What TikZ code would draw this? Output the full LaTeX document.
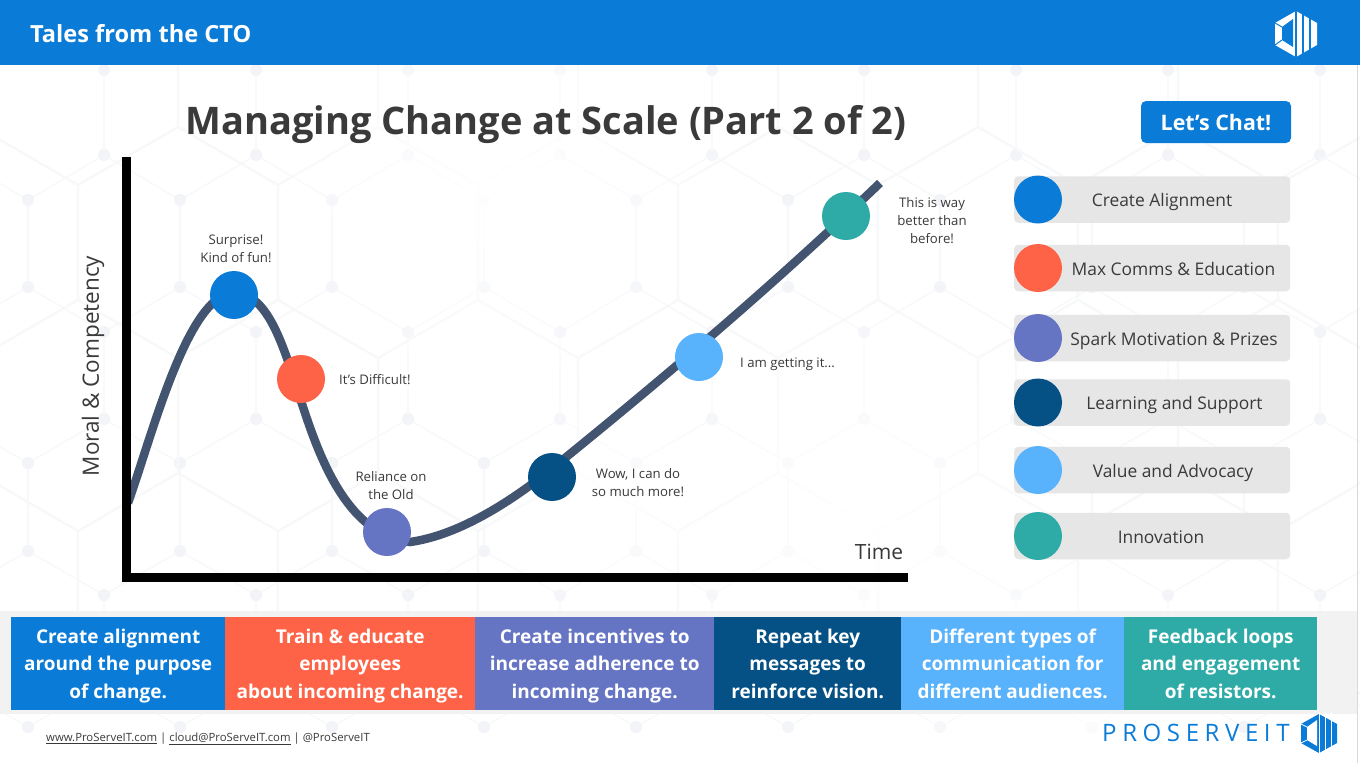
\documentclass[tikz,border=0pt]{standalone}
\usepackage{fontspec}
\usepackage{tikz}
\usetikzlibrary{fadings}
\setmainfont{Open Sans}
\definecolor{psblue}{HTML}{0A7CD8}
\definecolor{psred}{HTML}{FF6347}
\definecolor{pspurple}{HTML}{6674C4}
\definecolor{psnavy}{HTML}{055186}
\definecolor{pssky}{HTML}{58B2FC}
\definecolor{psteal}{HTML}{2EABA6}
\definecolor{pscurve}{HTML}{435470}
\definecolor{psink}{HTML}{3A3A3A}
\definecolor{pspill}{HTML}{E6E6E7}
\definecolor{psband}{HTML}{F2F2F2}
\definecolor{pshex}{HTML}{F7F8FA}
\definecolor{pshexdot}{HTML}{F3F4F8}
\newcommand{\topstrut}{\rule{0pt}{22.2pt}}
\tikzset{
  dot/.style={circle,fill=#1,draw=none,minimum size=48,inner sep=0pt},
  pill/.style={rounded corners=4,fill=pspill,draw=none,minimum height=46.5,minimum width=276,inner sep=0pt,anchor=west},
  pilltext/.style={text=psink,font=\fontsize{17.4}{22}\selectfont,inner sep=0pt},
  remark/.style={text=psink,font=\fontsize{13.2}{18}\selectfont,align=center,inner sep=0pt},
  block/.style={fill=#1,draw=none,text=white,font=\fontsize{19}{27.5}\selectfont\bfseries,align=center,inner sep=0pt,minimum height=93,anchor=north west},
  hexline/.style={draw=pshex,line width=1.2},
  bighex/.style={draw=pshex,line width=2.2},
}
\tikzfading[name=fadeblob,inner color=transparent!0,outer color=transparent!100]
\begin{document}
\begin{tikzpicture}[x=1pt,y=-1pt]
\useasboundingbox (0,0) rectangle (1360,763);
\fill[white] (0,0) rectangle (1360,763);
% background lattice
\foreach \col in {-1,...,9} {
  \pgfmathsetmacro{\xa}{104+152*\col}
  \pgfmathsetmacro{\xb}{28+152*\col}
  \pgfmathsetmacro{\xc}{180+152*\col}
  \draw[hexline] (\xa,70) -- (\xa,155) -- (\xb,200) -- (\xb,287) -- (\xa,332) -- (\xa,419) -- (\xb,463) -- (\xb,551) -- (\xa,595) -- (\xa,683) -- (\xb,727);
  \draw[hexline] (\xa,155) -- (\xc,200) -- (\xc,287) -- (\xa,332) (\xa,419) -- (\xc,463) -- (\xc,551) -- (\xa,595) (\xa,683) -- (\xc,727);
  \foreach \yy in {70,155,332,419,595,683} \fill[pshexdot] (\xa,\yy) circle (6);
  \foreach \yy in {200,287,463,551,727} \fill[pshexdot] (\xb,\yy) circle (6);
}
\foreach \col in {-1,...,6} {
  \pgfmathsetmacro{\xa}{78+200*\col}
  \pgfmathsetmacro{\xb}{178+200*\col}
  \pgfmathsetmacro{\xc}{278+200*\col}
  \draw[bighex] (\xb,12) -- (\xb,127) -- (\xa,185) -- (\xa,300) -- (\xb,358) -- (\xb,473) -- (\xa,531) -- (\xa,646) -- (\xb,704);
  \draw[bighex] (\xb,127) -- (\xc,185) (\xc,300) -- (\xb,358) (\xb,473) -- (\xc,531) (\xc,646) -- (\xb,704);
}
\foreach \xx/\yy/\rr in {500/180/240,860/520/250,1060/690/170,600/500/130}
  \fill[white,path fading=fadeblob] (\xx,\yy) circle (\rr);
\draw[black!15,line width=1] (1357.5,65) -- (1357.5,763);
% header
\fill[psblue] (0,0) rectangle (1360,65);
\node[text=white,font=\fontsize{23.6}{28}\selectfont\bfseries,anchor=west,inner sep=0pt] (header) at (30,34) {Tales from the CTO};
\fill[white] (1296,11) -- (1317,23) -- (1317,45) -- (1296,57) -- (1275,45) -- (1275,23) -- cycle;
\fill[psblue] (1282,27) -- (1293,19) -- (1293,47) -- (1282,40) -- cycle;
\draw[psblue,line width=1.2] (1296,9) -- (1296,59) (1303,9) -- (1303,59) (1310,9) -- (1310,59);
\draw[psblue,line width=1] (1275,23) -- (1282,27) (1275,45) -- (1282,40);
% title
\node[text=psink,font=\fontsize{38}{46}\selectfont\bfseries,inner sep=0pt] (title) at (546,125) {Managing Change at Scale (Part 2 of 2)};
\node[rounded corners=5,fill=psblue,text=white,font=\fontsize{21.4}{25}\selectfont\bfseries,minimum width=150,minimum height=42,inner sep=0pt] (chat) at (1216,122) {\raisebox{-8.5pt}[0pt][0pt]{Let’s Chat!}};
% curve
\coordinate (start) at (128,503);
\coordinate (peak) at (234,293);
\coordinate (drop) at (303,407);
\coordinate (trough) at (410,542);
\coordinate (climb) at (565,458);
\coordinate (tip) at (880,183);
\draw[pscurve,line width=8.5] (start) .. controls (152,436) and (188,293) .. (peak)
  .. controls (270,293) and (285,352) .. (drop)
  .. controls (322,465) and (350,535) .. (trough)
  .. controls (460,535) and (515,500) .. (climb)
  .. controls (640,397) and (760,298) .. (tip);
% axes
\coordinate (axistop) at (126,157);
\coordinate (origin) at (126,577);
\coordinate (axisright) at (908,577);
\draw[black,line width=9] (axistop) -- (origin) -- (axisright);
\node[text=psink,font=\fontsize{22.5}{26}\selectfont,rotate=90,inner sep=0pt] (ylabel) at (93,366) {Moral \& Competency};
\node[text=psink,font=\fontsize{21}{25}\selectfont,inner sep=0pt] (time) at (879,552) {Time};
% stations
\node[dot=psblue] (surprise) at (234,295) {};
\node[dot=psred] (difficult) at (301,379) {};
\node[dot=pspurple] (reliance) at (387,532) {};
\node[dot=psnavy] (wow) at (552,477) {};
\node[dot=pssky] (getting) at (699,357) {};
\node[dot=psteal] (better) at (846,216) {};
\node[remark] (rsurprise) at (236,249) {Surprise!\\Kind of fun!};
\node[remark,anchor=west] (rdifficult) at (339,380) {It’s Difficult!};
\node[remark] (rreliance) at (391,486) {Reliance on\\the Old};
\node[remark] (rwow) at (638,483) {Wow, I can do\\so much more!};
\node[remark,anchor=west] (rgetting) at (740,364) {I am getting it...};
\node[remark] (rbetter) at (932,221) {This is way\\better than\\before!};
% legend
\foreach \yy/\cc/\tx/\lbl/\tt in {
  199.5/psblue/1162/a/Create Alignment,
  268/psred/1173.5/b/Max Comms \& Education,
  338/pspurple/1174/c/Spark Motivation \& Prizes,
  402.5/psnavy/1174.5/d/Learning and Support,
  470/pssky/1173/e/Value and Advocacy,
  536/psteal/1161/f/Innovation} {
  \node[pill] (pill\lbl) at (1014,\yy) {};
  \node[dot=\cc] (leg\lbl) at (1038,\yy) {};
  \node[pilltext,anchor=base] (text\lbl) at (\tx,\yy+7) {\tt};
}
% bottom band
\fill[psband] (0,611) rectangle (1357,714);
\node[block=psblue,minimum width=214] (ba) at (11,617) {\topstrut Create alignment\\around the purpose\\\strut of change.};
\node[block=psred,minimum width=250] (bb) at (225,617) {\topstrut Train \& educate\\employees\\\strut about incoming change.};
\node[block=pspurple,minimum width=239] (bc) at (475,617) {\topstrut Create incentives to\\increase adherence to\\\strut incoming change.};
\node[block=psnavy,minimum width=187] (bd) at (714,617) {\topstrut Repeat key\\messages to\\\strut reinforce vision.};
\node[block=pssky,minimum width=223] (be) at (901,617) {\topstrut Different types of\\communication for\\\strut different audiences.};
\node[block=psteal,minimum width=193] (bf) at (1124,617) {\topstrut Feedback loops\\and engagement\\\strut of resistors.};
% footer
\node[text=psink,font=\fontsize{11.35}{14}\selectfont,anchor=west,inner sep=0pt] (links) at (46,739) {\underline{www.ProServeIT.com} | \underline{cloud@ProServeIT.com} | @ProServeIT};
\node[text=psblue,font=\fontsize{24}{28}\selectfont,anchor=west,inner sep=0pt] (brand) at (1102,733) {P\kern5.6pt R\kern5.6pt O\kern5.6pt S\kern5.6pt E\kern5.6pt R\kern5.6pt V\kern5.6pt E\kern5.6pt I\kern5.6pt T};
\fill[psblue] (1319,714) -- (1337,724) -- (1337,743) -- (1319,753) -- (1301,743) -- (1301,724) -- cycle;
\fill[white] (1307,727) -- (1317,720) -- (1317,746) -- (1307,740) -- cycle;
\draw[white,line width=1] (1319,712) -- (1319,755) (1325,712) -- (1325,755) (1331,712) -- (1331,755);
\draw[white,line width=0.8] (1301,724) -- (1307,727) (1301,743) -- (1307,740);
\end{tikzpicture}
\end{document}
